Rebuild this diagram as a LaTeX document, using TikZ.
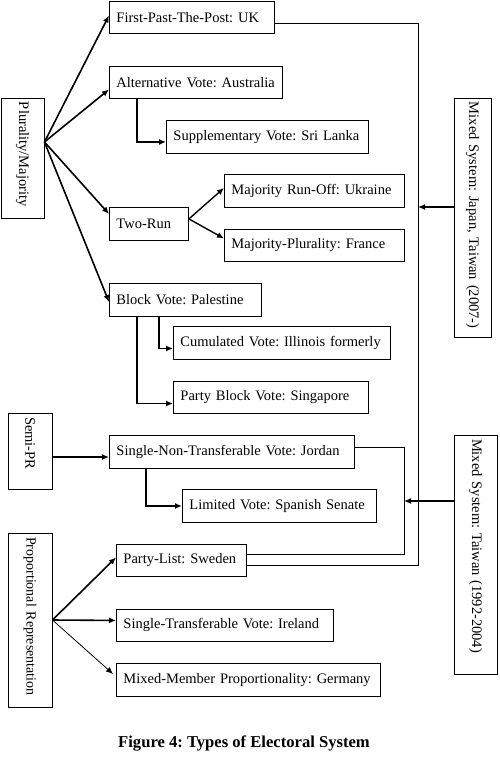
\documentclass[tikz,border=0pt]{standalone}
\usepackage{fontspec}
\setmainfont{Liberation Serif}
\usetikzlibrary{arrows.meta,calc}
\begin{document}
\frenchspacing
\begin{tikzpicture}[x=1pt,y=-1pt,
 box/.style={draw, line width=0.9pt, font=\fontsize{14.5}{17}\selectfont, inner xsep=7pt, inner ysep=0pt, align=left, anchor=north west},
 vbox/.style={draw, line width=0.9pt, font=\fontsize{14.5}{17}\selectfont, inner xsep=4pt, inner ysep=0pt, align=left, rotate=-90},
 arr/.style={-{Latex[length=7pt,width=6pt]}, line width=1.6pt},
 thinarr/.style={-{Latex[length=7pt,width=6pt]}, line width=0.8pt},
 link/.style={line width=0.9pt}]
\useasboundingbox[fill=white] (0,0) rectangle (499,759);

% left category boxes
\node[vbox, text width=112pt, minimum height=43pt] (pm) at (22.5,158) {\mbox{Plurality/Majority}};
\node[vbox, text width=68pt, minimum height=44pt] (semi) at (30,451) {\mbox{Semi-PR}};
\node[vbox, text width=166pt, minimum height=44pt, font=\fontsize{14}{17}\selectfont] (pr) at (30,620) {\mbox{Proportional Representation}};

% right mixed boxes
\node[vbox, text width=231pt, minimum height=37pt] (japan) at (472.5,217.5) {\mbox{Mixed System: Japan, Taiwan (2007-)}};
\node[vbox, text width=231pt, minimum height=43pt] (taiwan) at (475.5,554.5) {\mbox{Mixed System: Taiwan (1992-2004)}};

% system boxes
\node[box, text width=151pt, minimum height=32pt] (fptp) at (109,1) {\mbox{First-Past-The-Post: UK}};
\node[box, text width=159pt, minimum height=32pt] (av) at (109,66) {\mbox{Alternative Vote: Australia}};
\node[box, text width=188pt, minimum height=33pt] (sv) at (166,120) {\mbox{Supplementary Vote: Sri Lanka}};
\node[box, text width=166pt, minimum height=33pt] (mro) at (224,174) {\mbox{Majority Run-Off: Ukraine}};
\node[box, text width=166pt, minimum height=32pt] (mp) at (224,229) {\mbox{Majority-Plurality: France}};
\node[box, text width=65pt, minimum height=33pt] (tr) at (109,207) {\mbox{Two-Run}};
\node[box, text width=138pt, minimum height=33pt] (bv) at (109,283) {\mbox{Block Vote: Palestine}};
\node[box, text width=203pt, minimum height=33pt] (cv) at (173,326) {\mbox{Cumulated Vote: Illinois formerly}};
\node[box, text width=181pt, minimum height=32pt] (pbv) at (173,381) {\mbox{Party Block Vote: Singapore}};
\node[box, text width=231pt, minimum height=33pt] (sntv) at (109,435) {\mbox{Single-Non-Transferable Vote: Jordan}};
\node[box, text width=180pt, minimum height=33pt] (lv) at (182,489) {\mbox{Limited Vote: Spanish Senate}};
\node[box, text width=116pt, minimum height=32pt] (pl) at (116,544) {\mbox{Party-List: Sweden}};
\node[box, text width=203pt, minimum height=32pt] (stv) at (116,609) {\mbox{Single-Transferable Vote: Ireland}};
\node[box, text width=250pt, minimum height=33pt] (mmp) at (116,663) {\mbox{Mixed-Member Proportionality: Germany}};

% caption
\node[font=\bfseries\fontsize{16.6}{19}\selectfont] (cap) at (244,743) {Figure 4: Types of Electoral System};

% origins and bus corners
\coordinate (pmo) at ([yshift=16pt]pm.north);
\coordinate (tro) at ([yshift=5pt]tr.east);
\coordinate (busA) at (418,565);
\coordinate (busB) at (404,554);

% plurality/majority arrows
\draw[arr] (pmo) -- ([yshift=2pt]fptp.west);
\draw[arr] (pmo) -- ([yshift=-7pt]av.west);
\draw[arr] (pmo) -- ([yshift=10pt]tr.west);
\draw[arr] (pmo) -- ([yshift=-2pt]bv.west);

% two-run arrows
\draw[arr, line width=1.4pt] (tro) -- ([yshift=3pt]mro.west);
\draw[arr, line width=1.4pt] (tro) -- ([yshift=7pt]mp.west);

% elbow arrows
\draw[arr] ([xshift=28pt]av.south west) |- ([yshift=-5pt]sv.west);
\draw[arr] ([xshift=50pt]bv.south west) |- ([yshift=-5.5pt]cv.west);
\draw[arr] ([xshift=28pt]bv.south west) |- ([yshift=-6pt]pbv.west);
\draw[arr] ([xshift=37pt]sntv.south west) |- (lv.west);

% semi-PR
\draw[arr] ([yshift=-6pt]semi.north) -- ([yshift=-6pt]semi.north -| sntv.west);

% PR arrows
\draw[arr] (pr.north) -- ([yshift=3pt]pl.west);
\draw[arr] (pr.north) -- ([yshift=5pt]stv.west);
\draw[thinarr] (pr.north) -- ([xshift=-3pt,yshift=6pt]mmp.west);

% mixed system links
\draw[link] ([yshift=-6pt]fptp.east) -| (busA) -- (busA -| pl.east);
\draw[link] ([yshift=4.5pt]sntv.east) -| (busB) -- (busB -| pl.east);
\draw[arr] ([yshift=10.5pt]japan.south) -- ([yshift=10.5pt]japan.south -| busA);
\draw[arr] ([yshift=53.5pt]taiwan.south) -- ([yshift=53.5pt]taiwan.south -| busB);
\end{tikzpicture}
\end{document}
